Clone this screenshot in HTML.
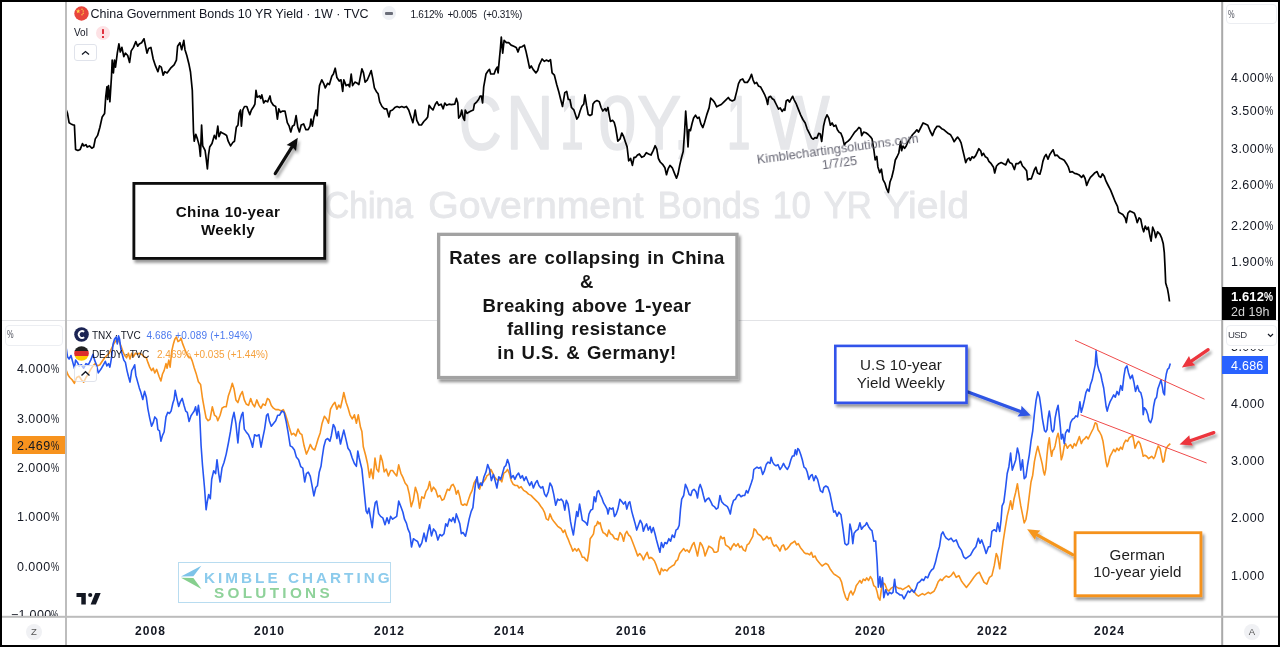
<!DOCTYPE html>
<html><head><meta charset="utf-8"><title>CN10Y chart</title>
<style>
html,body{margin:0;padding:0;background:#fff;}
body{width:1280px;height:647px;overflow:hidden;position:relative;font-family:"Liberation Sans",Arial,sans-serif;}
.abs{position:absolute;will-change:transform;}
.ax{position:absolute;font-family:"Liberation Sans",Arial,sans-serif;font-size:11px;color:#131722;white-space:nowrap;line-height:14px;height:14px;}
.axr{text-align:right;}
.leg{position:absolute;font-family:"Liberation Sans",Arial,sans-serif;white-space:nowrap;color:#131722;}
.box{position:absolute;background:#fff;box-sizing:border-box;text-align:center;font-family:"Liberation Sans",Arial,sans-serif;color:#111;}
.circ{position:absolute;border-radius:50%;}
.bline{position:absolute;background:#000;}
</style></head><body>

<svg class="abs" style="left:0;top:0" width="1280" height="647" viewBox="0 0 1280 647">
<defs><clipPath id="ctop"><rect x="67" y="2" width="1155" height="318"/></clipPath><clipPath id="cbot"><rect x="67" y="321" width="1155" height="296"/></clipPath></defs>
<text transform="translate(459.05,149.00) scale(0.7686,1)" font-family="'Liberation Sans',Arial,sans-serif" font-size="76.6" fill="#e6e7ea" stroke="#e6e7ea" stroke-width="1.60" stroke-linejoin="round">C</text>
<text transform="translate(506.31,149.00) scale(0.8528,1)" font-family="'Liberation Sans',Arial,sans-serif" font-size="76.6" fill="#e6e7ea" stroke="#e6e7ea" stroke-width="1.60" stroke-linejoin="round">N</text>
<text transform="translate(560.43,149.00) scale(0.5418,1)" font-family="'Liberation Sans',Arial,sans-serif" font-size="76.6" fill="#e6e7ea" stroke="#e6e7ea" stroke-width="1.60" stroke-linejoin="round">1</text>
<text transform="translate(598.51,149.00) scale(0.8857,1)" font-family="'Liberation Sans',Arial,sans-serif" font-size="76.6" fill="#e6e7ea" stroke="#e6e7ea" stroke-width="1.60" stroke-linejoin="round">0</text>
<text transform="translate(637.36,149.00) scale(0.8599,1)" font-family="'Liberation Sans',Arial,sans-serif" font-size="76.6" fill="#e6e7ea" stroke="#e6e7ea" stroke-width="1.60" stroke-linejoin="round">Y</text>
<text transform="translate(673.20,149.00) scale(0.8209,1)" font-family="'Liberation Sans',Arial,sans-serif" font-size="76.6" fill="#e6e7ea" stroke="#e6e7ea" stroke-width="1.60" stroke-linejoin="round">,</text>
<text transform="translate(726.90,149.00) scale(0.5479,1)" font-family="'Liberation Sans',Arial,sans-serif" font-size="76.6" fill="#e6e7ea" stroke="#e6e7ea" stroke-width="1.60" stroke-linejoin="round">1</text>
<text transform="translate(767.80,149.00) scale(0.8542,1)" font-family="'Liberation Sans',Arial,sans-serif" font-size="76.6" fill="#e6e7ea" stroke="#e6e7ea" stroke-width="1.60" stroke-linejoin="round">W</text>
<text transform="translate(324.86,218.05) scale(0.9150,1)" font-family="'Liberation Sans',Arial,sans-serif" font-size="36.9" fill="#e6e7ea" stroke="#e6e7ea" stroke-width="0.98" stroke-linejoin="round">China</text>
<text transform="translate(428.32,218.05) scale(1.0609,1)" font-family="'Liberation Sans',Arial,sans-serif" font-size="36.9" fill="#e6e7ea" stroke="#e6e7ea" stroke-width="0.85" stroke-linejoin="round">Government</text>
<text transform="translate(657.60,218.05) scale(0.9792,1)" font-family="'Liberation Sans',Arial,sans-serif" font-size="36.9" fill="#e6e7ea" stroke="#e6e7ea" stroke-width="0.92" stroke-linejoin="round">Bonds</text>
<text transform="translate(772.76,218.05) scale(0.9218,1)" font-family="'Liberation Sans',Arial,sans-serif" font-size="36.9" fill="#e6e7ea" stroke="#e6e7ea" stroke-width="0.98" stroke-linejoin="round">10</text>
<text transform="translate(823.75,218.05) scale(0.9395,1)" font-family="'Liberation Sans',Arial,sans-serif" font-size="36.9" fill="#e6e7ea" stroke="#e6e7ea" stroke-width="0.96" stroke-linejoin="round">YR</text>
<text transform="translate(883.45,218.05) scale(1.0597,1)" font-family="'Liberation Sans',Arial,sans-serif" font-size="36.9" fill="#e6e7ea" stroke="#e6e7ea" stroke-width="0.85" stroke-linejoin="round">Yield</text>
<rect x="2" y="320" width="1276" height="1" fill="#e2e3e6"/>
<rect x="65" y="2" width="2" height="643" fill="#bdbdbd"/>
<rect x="1221.2" y="2" width="2" height="643" fill="#a9a9a9"/>
<rect x="2" y="615.8" width="1276" height="2" fill="#bcbcbc"/>
<g clip-path="url(#ctop)"><path d="M66.3 110.0 L67.5 113.4 L69.1 122.7 L71.0 123.9 L73.3 125.0 L74.4 125.0 L75.6 149.4 L77.9 150.5 L80.2 149.4 L82.5 143.6 L83.7 145.9 L86.0 144.7 L87.2 147.0 L89.5 145.9 L91.8 148.2 L93.7 147.0 L95.3 138.9 L97.6 135.4 L99.9 127.3 L102.2 116.9 L104.6 113.4 L105.7 97.2 L106.9 86.8 L107.6 99.5 L108.5 85.6 L109.9 101.8 L111.5 76.3 L112.2 60.1 L113.4 72.9 L114.5 60.1 L115.5 67.1 L117.3 53.2 L118.9 43.9 L120.3 52.0 L121.9 47.4 L123.8 56.7 L125.4 53.2 L127.7 55.5 L129.6 62.4 L131.2 50.9 L133.5 47.4 L135.8 41.6 L137.7 46.2 L139.3 43.9 L141.6 42.7 L144.0 38.8 L145.1 43.9 L147.0 53.2 L148.6 48.5 L150.9 47.4 L153.2 59.0 L155.5 65.9 L157.9 71.7 L159.5 65.9 L161.3 67.1 L163.2 75.2 L164.8 71.7 L167.1 72.9 L170.6 68.2 L174.1 64.8 L176.4 60.1 L177.6 46.2 L179.9 42.7 L181.7 49.7 L183.8 40.4 L185.0 49.7 L186.8 55.5 L189.1 64.8 L190.5 72.0 L192.3 90.3 L193.5 132.0 L194.2 141.2 L195.8 134.3 L197.4 138.9 L199.3 145.9 L200.4 156.3 L201.6 125.0 L202.7 145.9 L203.9 148.2 L205.1 150.5 L206.2 158.6 L207.4 169.0 L208.5 155.1 L209.7 147.0 L212.0 143.6 L214.3 135.4 L216.0 138.9 L217.8 126.2 L219.0 136.6 L220.8 132.0 L222.4 133.1 L224.8 134.3 L226.6 135.4 L228.2 141.2 L230.6 145.9 L232.9 142.4 L234.5 141.2 L236.3 127.3 L238.0 125.0 L239.1 113.4 L240.5 110.0 L241.4 126.2 L242.8 110.0 L244.5 106.5 L246.8 106.5 L248.4 111.1 L249.8 114.6 L251.4 110.0 L253.7 106.5 L254.9 104.2 L256.0 90.3 L257.2 97.2 L259.5 96.0 L260.7 98.4 L261.8 94.9 L263.7 103.0 L265.3 100.7 L267.6 101.8 L270.0 96.0 L271.1 101.8 L273.4 105.3 L275.7 106.5 L277.4 119.2 L278.8 108.8 L280.4 112.3 L282.7 111.1 L285.0 111.1 L287.3 122.7 L289.2 126.2 L290.8 132.0 L292.4 126.2 L294.3 125.0 L296.1 115.7 L297.8 127.3 L299.4 132.0 L301.2 125.0 L303.6 123.9 L305.9 129.7 L308.2 129.7 L310.0 126.2 L311.0 119.2 L312.4 126.2 L314.0 116.9 L316.0 110.0 L317.2 115.7 L318.3 97.2 L319.5 85.6 L321.8 79.8 L323.6 83.3 L325.3 87.9 L327.6 83.3 L329.4 84.5 L331.8 76.3 L333.4 74.0 L335.2 68.2 L336.9 77.5 L339.2 81.0 L341.0 79.8 L342.7 91.4 L343.8 79.8 L346.1 85.6 L348.4 84.5 L349.6 86.8 L351.2 74.0 L352.6 85.6 L354.9 82.1 L357.3 83.3 L358.9 84.5 L360.0 78.7 L361.9 68.9 L363.5 72.9 L365.1 82.1 L367.4 79.8 L369.3 75.2 L371.2 70.6 L372.8 78.7 L374.4 87.9 L376.3 91.4 L378.1 93.7 L379.7 101.8 L382.0 106.5 L384.4 108.8 L386.7 108.8 L389.0 116.9 L390.2 111.1 L392.5 110.0 L394.8 107.6 L397.1 106.5 L399.4 107.6 L401.7 106.5 L404.1 107.6 L406.4 106.5 L408.7 110.0 L411.0 116.9 L412.9 122.7 L415.2 110.0 L416.8 120.4 L419.1 125.0 L421.4 125.0 L423.8 121.5 L426.1 119.2 L427.7 116.9 L429.1 105.3 L430.7 107.6 L433.0 110.0 L435.3 104.2 L437.0 101.8 L438.8 105.3 L441.1 104.2 L443.2 108.8 L444.8 103.0 L446.6 105.3 L449.0 104.2 L451.3 104.6 L454.7 104.2 L456.4 98.4 L457.8 103.0 L458.7 118.1 L460.5 115.7 L461.7 110.0 L463.3 118.1 L464.5 120.4 L465.2 110.0 L467.0 113.4 L468.7 112.3 L471.0 111.1 L473.3 110.0 L474.4 104.2 L476.8 101.8 L478.6 99.5 L480.2 96.0 L481.4 96.0 L482.6 103.0 L483.7 86.8 L486.0 74.0 L488.3 70.6 L489.5 69.4 L490.7 74.0 L494.1 74.0 L495.8 69.4 L497.2 67.1 L498.1 72.9 L499.5 57.8 L500.4 48.5 L501.3 37.0 L502.7 53.2 L504.1 40.4 L506.4 42.7 L508.7 42.7 L511.1 45.1 L513.8 46.2 L516.2 47.4 L518.0 52.0 L519.6 47.4 L522.0 46.7 L524.3 45.1 L525.9 50.9 L527.7 59.0 L529.6 68.2 L531.2 65.9 L533.1 69.4 L535.9 72.9 L537.7 70.6 L539.3 64.8 L542.1 59.0 L544.4 61.3 L546.3 60.1 L548.6 61.3 L550.5 59.7 L552.1 72.9 L554.4 75.2 L556.7 84.5 L559.0 92.6 L560.7 99.5 L562.5 106.5 L564.8 92.6 L566.7 91.4 L568.3 99.5 L569.9 99.5 L571.5 107.5 L573.8 109.8 L575.4 114.5 L576.8 119.1 L578.4 116.8 L580.1 111.0 L581.9 106.3 L583.8 104.0 L584.9 94.8 L586.5 105.2 L588.2 114.5 L590.0 115.6 L591.9 114.5 L593.0 104.0 L594.7 101.7 L597.0 100.6 L599.3 101.7 L601.1 107.5 L602.8 111.0 L605.1 108.7 L606.2 111.0 L607.9 107.5 L609.3 115.6 L610.4 121.4 L612.5 120.3 L614.3 122.6 L615.5 127.2 L616.7 134.2 L617.8 141.1 L620.1 138.8 L621.8 133.0 L623.6 136.5 L625.5 142.3 L627.1 146.9 L628.7 160.8 L630.6 158.5 L632.4 165.4 L634.0 157.3 L635.7 157.3 L637.5 155.0 L639.4 153.9 L641.7 157.3 L644.0 156.2 L646.3 152.7 L648.6 153.9 L651.0 155.0 L653.3 150.4 L655.1 145.7 L656.8 149.2 L658.4 158.5 L660.2 162.0 L662.6 164.3 L664.9 167.8 L666.5 174.7 L668.1 168.9 L670.0 165.4 L672.3 167.8 L674.6 173.6 L676.5 178.2 L678.1 173.6 L679.7 165.4 L681.6 157.3 L683.2 151.5 L684.6 131.8 L685.7 111.0 L686.9 127.2 L688.0 146.9 L689.0 129.5 L690.4 130.7 L692.0 123.7 L693.6 117.9 L695.5 115.2 L697.5 118.4 L699.1 117.2 L701.0 124.2 L702.8 127.6 L704.4 123.0 L706.7 114.9 L709.1 107.9 L710.7 98.2 L712.5 99.8 L714.4 102.1 L716.7 106.8 L719.0 105.6 L721.3 104.5 L723.7 102.1 L726.0 99.8 L728.3 97.5 L729.9 99.8 L732.2 101.0 L734.6 99.8 L736.9 90.6 L738.5 83.6 L740.3 80.1 L742.7 79.0 L744.5 82.4 L747.3 82.4 L749.6 79.0 L751.5 74.3 L753.1 80.1 L754.7 83.6 L756.6 82.4 L758.4 85.9 L760.7 87.1 L763.1 91.7 L764.9 95.2 L766.3 98.7 L767.7 104.5 L768.6 97.5 L770.5 96.3 L772.3 98.7 L774.0 99.8 L776.3 104.5 L778.6 109.1 L780.2 107.9 L782.1 111.4 L783.9 109.1 L784.8 110.3 L786.2 101.0 L787.9 99.8 L789.5 102.1 L791.3 98.7 L792.7 96.3 L794.1 99.8 L796.0 103.3 L798.3 109.1 L800.6 114.9 L802.9 119.5 L805.2 123.0 L807.1 128.8 L809.4 133.4 L811.7 138.1 L813.4 139.2 L815.0 137.6 L816.8 138.1 L818.7 133.4 L820.3 134.0 L821.7 141.5 L823.5 126.3 L825.1 119.4 L827.0 114.8 L828.8 118.2 L830.4 125.2 L832.1 122.9 L833.9 126.3 L835.8 125.2 L837.4 129.8 L839.0 132.1 L840.9 133.3 L842.7 137.9 L844.3 144.9 L846.0 142.6 L847.8 141.4 L850.1 139.1 L852.4 135.6 L854.8 132.1 L857.1 129.8 L858.9 127.5 L860.6 128.7 L861.7 135.6 L863.6 132.1 L865.9 132.8 L868.2 134.5 L870.5 136.8 L872.1 139.1 L873.8 149.5 L875.2 160.0 L876.8 156.5 L877.9 166.9 L879.8 172.7 L881.4 169.2 L883.0 179.7 L884.9 183.1 L886.7 188.9 L888.4 192.4 L890.0 182.0 L891.8 177.3 L893.7 169.2 L895.3 160.0 L897.2 156.5 L898.8 153.0 L900.6 141.4 L901.6 150.7 L903.0 146.0 L904.6 148.4 L906.2 146.0 L908.1 141.4 L910.4 137.9 L912.7 134.5 L915.0 132.1 L916.9 129.8 L918.5 132.1 L920.8 127.5 L923.1 122.9 L925.4 124.0 L927.8 125.2 L930.1 131.0 L932.4 135.6 L934.7 129.8 L937.0 126.3 L939.3 126.3 L941.7 128.7 L944.0 129.8 L946.3 131.8 L948.4 133.6 L950.6 134.8 L952.5 138.2 L954.1 141.7 L955.7 139.4 L957.6 137.1 L959.4 139.4 L961.1 142.9 L962.7 149.8 L964.1 155.6 L965.7 162.6 L967.3 159.1 L969.2 157.9 L970.3 160.3 L972.0 156.8 L973.8 157.9 L975.7 155.6 L977.3 152.1 L978.9 148.7 L980.8 151.0 L981.9 155.6 L983.5 153.3 L985.4 156.8 L987.3 157.9 L988.9 161.4 L991.2 163.7 L993.5 167.2 L994.7 173.0 L996.5 166.0 L998.8 163.7 L1001.2 162.6 L1003.5 163.7 L1005.8 164.9 L1008.1 159.1 L1009.7 162.6 L1012.0 163.7 L1014.4 169.5 L1016.0 163.7 L1018.3 163.7 L1020.6 161.4 L1022.5 166.0 L1024.8 168.4 L1026.6 170.7 L1027.6 180.0 L1029.4 178.8 L1031.3 178.8 L1032.9 174.2 L1034.5 169.5 L1035.9 167.2 L1037.5 173.0 L1039.9 174.2 L1041.5 168.4 L1042.9 161.4 L1044.5 156.8 L1046.1 154.5 L1048.0 159.1 L1049.8 154.5 L1051.4 152.1 L1053.1 149.8 L1054.9 155.6 L1057.2 155.2 L1059.6 157.9 L1061.9 159.1 L1064.2 160.3 L1066.5 163.7 L1068.4 167.2 L1070.0 172.2 L1072.3 171.6 L1074.6 173.4 L1077.0 173.9 L1079.3 175.1 L1081.6 177.4 L1083.4 175.1 L1085.1 178.5 L1086.7 185.5 L1088.5 180.9 L1090.4 177.4 L1092.7 175.1 L1095.0 172.7 L1097.1 171.6 L1099.0 176.2 L1100.8 177.4 L1102.4 173.9 L1104.3 176.2 L1105.9 180.9 L1108.2 185.5 L1110.6 190.1 L1112.9 195.9 L1115.2 201.7 L1117.5 206.3 L1118.7 212.1 L1120.5 213.3 L1122.8 214.5 L1125.2 217.9 L1126.3 222.6 L1127.9 213.3 L1129.8 211.0 L1132.1 212.1 L1134.4 213.3 L1136.0 217.9 L1137.2 222.6 L1139.1 217.9 L1140.7 219.1 L1142.3 227.2 L1143.7 231.8 L1145.3 226.0 L1146.9 229.5 L1148.3 227.2 L1150.0 236.5 L1151.1 241.1 L1152.7 227.2 L1154.6 231.8 L1155.7 237.6 L1157.6 231.8 L1159.9 234.2 L1161.5 237.6 L1163.2 243.4 L1164.3 252.7 L1165.0 266.6 L1165.7 283.0 L1166.9 287.0 L1167.4 288.4 L1168.5 294.4 L1169.5 301.5" fill="none" stroke="#000" stroke-width="1.7" stroke-linejoin="round"/></g>
<g clip-path="url(#cbot)"><path d="M66.3 370.6 L68.2 375.2 L69.8 377.5 L72.1 379.8 L74.4 383.3 L76.7 377.5 L79.1 376.3 L81.4 379.8 L83.7 382.1 L86.0 377.5 L88.3 374.0 L90.7 369.4 L93.0 365.9 L95.3 363.6 L97.6 365.9 L99.9 364.8 L102.2 361.3 L104.6 357.8 L106.9 355.5 L109.2 353.2 L111.5 348.5 L113.8 343.9 L116.1 340.4 L117.8 339.3 L119.6 342.7 L121.5 347.4 L123.1 352.0 L124.7 355.5 L126.6 357.8 L128.4 353.2 L130.0 359.0 L131.7 353.2 L133.5 356.7 L135.4 353.2 L137.7 354.3 L139.3 353.2 L141.6 354.3 L144.0 356.7 L146.3 357.8 L147.9 362.4 L149.7 367.1 L151.6 370.6 L153.2 368.2 L154.8 372.9 L156.7 369.4 L159.0 376.3 L160.9 381.0 L162.5 374.0 L164.1 370.6 L166.0 363.6 L167.1 368.2 L168.8 360.1 L170.1 367.1 L171.8 350.9 L173.4 343.9 L174.8 339.3 L176.4 337.0 L178.0 341.6 L179.9 340.4 L181.0 338.1 L182.7 343.9 L184.5 348.5 L186.8 354.3 L189.1 357.8 L190.5 357.0 L192.2 360.9 L194.2 367.8 L196.1 373.4 L198.4 381.8 L200.6 384.5 L202.5 398.5 L204.5 409.6 L206.1 418.0 L208.1 420.7 L210.0 419.3 L212.3 406.8 L214.5 415.2 L216.4 416.6 L217.8 420.7 L220.1 415.2 L222.0 408.2 L224.0 406.8 L226.2 406.8 L228.4 395.7 L230.4 390.1 L232.3 383.2 L234.0 388.7 L235.9 399.9 L237.9 402.6 L240.1 395.7 L242.3 391.5 L244.3 399.9 L246.2 404.0 L248.5 405.4 L250.7 398.5 L252.6 404.0 L254.6 406.8 L256.8 399.9 L259.0 405.4 L261.0 408.2 L262.9 404.0 L265.2 405.4 L267.4 398.5 L269.3 399.9 L271.3 405.4 L273.5 408.2 L275.7 409.6 L278.5 409.6 L281.3 411.0 L283.3 409.6 L285.2 413.8 L287.4 420.7 L289.7 429.1 L291.6 434.7 L293.6 433.3 L295.8 436.0 L298.0 429.1 L300.0 433.3 L301.9 434.7 L304.1 445.8 L306.4 454.1 L308.3 450.0 L310.3 444.4 L312.5 448.6 L314.7 450.0 L316.3 445.0 L318.2 438.5 L320.2 432.9 L322.1 423.2 L324.4 416.2 L326.6 419.0 L328.5 423.2 L330.5 409.2 L332.7 405.1 L334.9 402.3 L336.9 409.2 L338.8 405.1 L340.5 407.8 L342.4 399.5 L343.8 392.5 L346.1 402.3 L348.0 407.8 L350.0 414.8 L352.2 419.0 L354.4 414.8 L356.4 423.2 L358.3 414.8 L360.5 427.3 L361.9 431.5 L363.3 446.8 L365.6 455.2 L367.5 463.5 L369.5 477.4 L371.1 469.1 L373.1 478.8 L375.0 458.0 L376.7 469.1 L378.6 471.9 L380.6 455.2 L382.3 460.7 L384.2 471.9 L386.2 469.1 L388.4 476.0 L390.6 470.5 L392.6 470.5 L394.5 473.3 L396.7 476.0 L398.7 464.9 L400.9 473.3 L402.9 477.4 L405.1 483.0 L407.3 485.8 L409.3 494.1 L411.2 506.7 L413.4 499.7 L415.4 487.2 L417.6 494.1 L419.6 508.1 L421.8 496.9 L424.0 498.3 L426.0 491.4 L427.9 488.6 L429.6 481.6 L431.5 491.4 L433.5 487.2 L435.7 490.0 L437.9 496.9 L439.9 495.5 L442.0 500.3 L444.0 499.1 L445.7 494.1 L447.4 489.2 L449.4 490.4 L451.4 485.5 L453.1 484.3 L454.9 488.0 L456.3 494.1 L458.1 490.4 L459.8 496.6 L461.3 504.0 L463.0 505.3 L464.7 504.0 L466.7 505.3 L468.7 499.1 L470.4 494.1 L472.2 490.4 L474.1 483.0 L476.1 479.3 L477.8 483.0 L479.6 489.2 L481.5 483.0 L483.5 481.8 L485.3 479.3 L487.0 475.6 L489.0 474.4 L490.9 469.4 L492.7 473.1 L494.4 476.8 L496.4 479.3 L498.4 480.6 L500.1 479.3 L501.8 481.8 L503.8 473.1 L505.8 471.9 L507.5 469.4 L509.2 473.1 L511.2 480.6 L513.2 484.3 L515.2 485.5 L517.4 485.5 L519.1 488.0 L521.1 486.7 L523.6 490.4 L526.0 491.7 L528.5 494.1 L531.0 495.4 L533.4 497.9 L535.9 500.3 L538.4 502.8 L540.9 506.5 L542.8 509.0 L544.6 512.7 L546.3 518.9 L548.3 520.1 L550.0 513.9 L552.0 518.9 L553.7 521.3 L555.7 523.8 L557.7 526.3 L559.4 527.5 L561.1 528.7 L563.1 532.5 L564.8 530.0 L566.8 536.2 L568.5 539.9 L570.0 544.0 L571.0 546.2 L572.9 551.1 L574.9 548.6 L576.7 551.1 L578.4 548.6 L580.4 552.3 L582.3 557.3 L584.1 557.3 L585.8 559.8 L587.3 561.0 L589.0 551.1 L590.2 538.7 L592.0 536.3 L593.5 533.8 L594.7 526.4 L596.4 525.2 L597.7 521.4 L598.9 523.9 L600.1 522.7 L601.6 528.9 L603.1 532.6 L605.1 533.8 L607.1 536.3 L608.8 530.1 L610.5 533.8 L612.5 535.0 L614.5 538.7 L616.2 538.7 L617.9 540.0 L619.9 532.6 L621.9 535.0 L623.6 541.2 L625.3 533.8 L626.8 531.3 L628.6 535.0 L630.3 536.3 L632.3 541.2 L634.2 546.2 L636.0 551.1 L637.7 556.0 L639.7 553.6 L641.7 556.0 L643.4 559.8 L645.1 556.0 L647.1 552.3 L649.1 558.5 L650.8 557.3 L652.5 558.5 L654.5 561.0 L656.5 565.9 L658.2 570.9 L659.9 574.6 L661.4 568.4 L663.2 570.9 L664.9 569.6 L666.9 570.9 L668.8 568.4 L670.6 567.2 L672.3 565.9 L674.3 564.7 L676.0 561.0 L677.7 559.8 L679.7 553.6 L681.7 551.1 L683.7 548.6 L685.4 551.1 L687.1 549.9 L689.1 552.3 L690.8 548.6 L692.3 544.9 L694.0 542.5 L696.0 549.9 L697.5 556.0 L698.9 548.6 L700.2 542.5 L701.9 544.9 L703.4 548.6 L705.1 556.0 L706.9 551.1 L708.8 546.2 L710.8 547.4 L712.5 548.6 L714.3 552.3 L716.2 552.3 L718.0 551.1 L719.2 541.2 L720.7 536.3 L722.4 538.7 L724.2 537.5 L725.6 544.9 L727.4 546.2 L729.1 547.4 L730.6 549.9 L732.3 546.2 L734.0 543.7 L736.0 546.2 L738.0 543.7 L739.7 547.4 L741.5 546.2 L743.4 549.9 L745.4 551.1 L747.1 544.9 L748.9 543.7 L750.8 540.0 L752.8 536.3 L754.1 528.9 L755.8 530.1 L757.8 533.8 L759.5 535.0 L761.2 536.3 L763.2 540.0 L765.2 538.7 L766.9 536.3 L768.6 538.7 L770.6 537.5 L772.6 543.7 L774.3 546.2 L776.1 544.9 L778.0 547.4 L780.0 551.1 L781.7 546.2 L783.5 544.9 L785.4 549.9 L787.4 548.6 L789.2 546.2 L790.9 543.7 L792.9 542.5 L794.8 541.2 L796.6 544.9 L798.3 543.7 L800.3 547.4 L802.3 549.9 L804.0 552.3 L805.7 553.6 L807.7 553.6 L809.7 554.8 L811.4 552.3 L813.1 557.3 L815.1 556.0 L816.8 559.8 L818.8 562.2 L820.3 564.0 L822.1 566.0 L823.9 564.7 L825.8 563.4 L827.9 564.7 L830.0 568.7 L831.8 571.3 L833.7 573.9 L835.8 575.2 L837.9 576.6 L839.7 577.9 L841.5 581.8 L843.6 591.0 L845.7 597.6 L847.6 600.2 L849.4 593.6 L851.0 591.0 L852.8 594.9 L854.7 591.0 L856.2 585.7 L858.1 583.1 L859.9 580.5 L861.5 583.1 L863.3 579.2 L865.2 580.5 L866.7 577.9 L868.6 580.5 L870.4 576.6 L872.0 579.2 L873.8 585.7 L875.7 587.1 L877.2 592.3 L878.3 597.6 L879.9 600.2 L881.7 587.1 L883.6 583.1 L885.1 584.4 L887.0 589.7 L888.8 591.0 L890.9 588.4 L893.0 587.1 L894.8 585.7 L896.7 587.1 L898.8 588.4 L900.9 588.4 L902.7 589.7 L904.6 588.4 L906.7 587.1 L908.8 585.7 L910.6 588.4 L912.4 591.0 L914.5 592.3 L916.6 594.9 L918.5 596.2 L920.3 594.9 L922.4 593.6 L924.5 594.9 L926.4 593.6 L928.2 592.3 L930.3 593.6 L932.4 592.3 L934.2 591.0 L936.1 587.1 L938.2 581.8 L940.3 579.2 L942.1 580.5 L944.0 577.9 L946.1 576.0 L948.7 577.3 L951.1 575.6 L953.5 572.2 L956.2 577.3 L958.9 575.6 L961.3 580.7 L963.7 584.1 L966.4 587.5 L969.1 584.1 L971.5 580.7 L973.9 577.3 L976.6 573.9 L979.3 572.2 L981.7 577.3 L984.1 582.4 L986.8 584.1 L989.5 577.3 L991.9 575.6 L994.3 565.4 L996.3 553.5 L997.7 556.9 L999.7 568.8 L1001.1 556.9 L1003.1 541.6 L1005.5 526.3 L1007.2 516.1 L1008.9 509.3 L1010.6 500.7 L1012.3 509.3 L1014.0 499.0 L1015.7 492.2 L1017.4 483.7 L1019.1 495.6 L1020.8 505.9 L1022.5 514.4 L1024.2 522.9 L1025.9 519.5 L1027.6 509.3 L1029.3 495.6 L1031.0 482.0 L1032.7 475.2 L1034.4 461.6 L1036.1 453.1 L1037.8 446.3 L1039.5 453.1 L1041.2 459.8 L1042.3 464.4 L1043.5 471.4 L1044.6 474.9 L1045.8 469.1 L1047.0 455.2 L1048.1 444.7 L1049.3 437.8 L1050.4 448.2 L1051.6 456.3 L1052.7 450.5 L1053.9 449.4 L1055.1 445.9 L1056.7 437.8 L1058.1 433.2 L1059.2 438.9 L1060.4 450.5 L1061.3 459.8 L1062.7 455.2 L1064.3 445.9 L1065.5 443.6 L1067.4 448.2 L1069.0 445.9 L1070.6 444.7 L1072.5 448.2 L1074.3 443.6 L1075.9 445.9 L1077.6 441.3 L1079.4 436.6 L1081.3 443.6 L1082.9 440.1 L1084.5 438.9 L1086.4 436.6 L1088.2 438.9 L1089.8 435.5 L1091.5 432.0 L1093.3 428.5 L1095.2 422.7 L1096.8 423.9 L1098.0 429.7 L1099.6 432.0 L1101.4 435.5 L1103.0 441.3 L1104.4 450.5 L1106.1 462.1 L1107.2 466.8 L1108.4 463.3 L1110.0 456.3 L1111.9 452.9 L1113.7 449.4 L1115.3 451.7 L1117.0 448.2 L1118.8 450.5 L1120.7 447.1 L1122.3 449.4 L1123.9 443.6 L1125.8 440.1 L1127.6 441.3 L1129.2 437.8 L1130.9 436.6 L1132.7 435.5 L1133.9 441.3 L1135.0 448.2 L1136.9 443.6 L1138.5 441.3 L1140.1 443.6 L1142.0 450.5 L1143.2 456.3 L1144.8 455.2 L1146.6 456.3 L1148.5 458.6 L1150.1 457.5 L1151.7 456.3 L1153.6 458.6 L1155.0 456.3 L1156.6 450.5 L1158.2 445.9 L1160.1 448.2 L1161.7 456.3 L1162.9 462.1 L1164.0 461.0 L1165.2 452.9 L1166.3 448.2 L1167.9 445.9 L1170.3 443.6" fill="none" stroke="#f7931e" stroke-width="1.6" stroke-linejoin="round"/><path d="M66.3 348.5 L67.5 356.7 L69.1 359.0 L71.0 355.5 L72.8 362.4 L74.4 368.2 L75.6 360.1 L77.4 362.4 L79.1 365.9 L81.4 364.8 L83.7 368.2 L86.0 363.6 L88.3 364.8 L90.7 360.1 L93.0 354.3 L94.6 360.1 L96.4 364.8 L98.3 372.9 L99.9 370.6 L101.5 368.2 L103.4 364.8 L105.3 361.3 L106.9 365.9 L108.5 363.6 L109.9 367.1 L111.5 357.8 L113.1 343.9 L114.5 339.3 L116.1 337.0 L117.3 343.9 L118.5 335.8 L119.6 339.3 L120.8 348.5 L121.9 353.2 L123.8 360.1 L125.4 362.4 L127.0 370.6 L128.4 376.3 L130.0 382.1 L131.7 370.6 L133.1 368.2 L134.7 364.8 L135.8 375.2 L137.7 382.1 L139.3 387.9 L140.9 392.6 L142.8 399.5 L144.6 391.4 L146.3 397.2 L147.9 408.8 L149.7 418.1 L151.6 426.2 L153.2 422.7 L154.8 416.9 L156.7 419.2 L157.9 429.7 L159.5 430.8 L160.9 441.2 L162.5 435.4 L164.1 432.0 L166.0 416.9 L167.8 412.3 L169.4 413.4 L171.1 411.1 L172.9 403.0 L174.1 399.5 L175.2 390.3 L177.1 399.5 L178.7 406.5 L180.3 401.8 L182.2 398.4 L184.0 405.3 L185.7 411.1 L187.3 412.3 L189.1 421.5 L191.0 415.7 L192.6 413.4 L194.2 411.0 L195.6 406.8 L197.0 415.2 L198.4 405.4 L199.7 415.2 L201.1 445.8 L202.5 465.3 L204.5 487.5 L206.1 509.8 L207.3 501.5 L208.7 494.5 L210.3 498.7 L211.7 479.2 L213.7 470.8 L215.6 473.6 L217.0 459.7 L218.7 473.6 L220.1 482.0 L222.0 468.1 L224.0 462.5 L226.2 454.1 L228.4 443.0 L230.4 431.9 L232.3 419.3 L234.0 412.4 L235.9 423.5 L237.9 443.0 L239.6 423.5 L241.5 415.2 L242.9 412.4 L244.3 429.1 L246.2 431.9 L248.5 434.7 L250.7 440.2 L252.6 447.2 L254.6 434.7 L256.8 436.0 L259.0 434.7 L261.0 447.2 L262.9 437.4 L264.6 429.1 L266.6 415.2 L268.0 413.8 L269.3 420.7 L271.3 426.3 L273.5 423.5 L275.7 420.7 L277.7 415.2 L279.6 415.2 L281.9 411.0 L284.1 412.4 L286.0 420.7 L288.0 431.9 L290.2 445.8 L292.4 447.2 L294.4 450.0 L296.3 456.9 L298.6 459.7 L300.8 466.7 L302.8 468.1 L304.7 482.0 L306.4 473.6 L308.3 472.2 L310.3 476.4 L311.9 484.8 L313.9 495.9 L315.8 487.5 L317.4 485.8 L319.3 471.9 L321.0 466.3 L322.1 458.0 L323.8 446.8 L325.7 439.9 L327.7 438.5 L329.9 441.2 L331.3 435.7 L333.3 424.5 L334.9 427.3 L336.9 438.5 L338.3 431.5 L340.5 444.0 L342.4 435.7 L343.8 430.1 L346.1 439.9 L348.0 448.2 L350.0 451.0 L352.2 458.0 L354.4 463.5 L356.4 466.3 L357.8 451.0 L359.2 458.0 L360.5 463.5 L361.9 469.1 L363.3 483.0 L364.7 496.9 L366.1 510.8 L367.5 513.6 L368.9 508.1 L370.3 516.4 L372.2 527.6 L373.9 510.8 L375.3 502.5 L376.7 501.1 L378.6 513.6 L380.6 516.4 L382.8 517.8 L385.0 524.8 L387.0 517.8 L388.9 523.4 L390.6 516.4 L392.6 519.2 L394.5 517.8 L396.7 516.4 L398.7 501.1 L400.9 506.7 L402.9 512.2 L404.5 519.2 L406.5 523.4 L407.9 528.9 L409.8 533.1 L411.5 547.0 L413.4 538.7 L415.4 540.1 L417.6 541.5 L419.6 547.0 L421.8 542.9 L424.0 533.1 L426.0 541.5 L427.9 531.7 L429.6 524.8 L431.5 535.9 L433.5 528.9 L435.7 531.7 L437.9 540.1 L439.9 534.5 L441.8 535.9 L444.0 533.7 L445.7 523.8 L447.4 526.3 L449.4 518.9 L451.4 521.3 L453.1 517.6 L454.9 522.6 L456.3 513.9 L458.1 518.9 L459.8 523.8 L461.3 533.7 L463.0 532.5 L465.5 536.2 L467.2 528.7 L469.2 518.9 L471.2 511.4 L472.9 507.7 L474.1 496.6 L475.4 484.3 L477.1 476.8 L478.6 488.0 L480.3 483.0 L482.0 485.5 L484.0 476.8 L486.0 471.9 L487.7 464.5 L489.5 469.4 L491.4 480.6 L493.4 474.4 L495.1 480.6 L496.9 488.0 L498.8 476.8 L500.8 479.3 L502.6 473.1 L504.3 467.0 L505.8 465.7 L507.5 459.5 L509.2 464.5 L511.2 478.1 L513.2 475.6 L514.9 479.3 L516.6 475.6 L518.6 473.1 L520.6 478.1 L522.3 475.6 L524.1 480.6 L526.0 476.8 L528.0 481.8 L529.7 485.5 L531.5 481.8 L533.4 488.0 L535.4 483.0 L537.2 480.6 L538.9 485.5 L540.9 488.0 L542.8 486.7 L544.6 494.1 L546.3 496.6 L548.3 491.7 L550.0 483.0 L552.0 486.7 L553.7 494.1 L555.7 505.3 L557.7 499.1 L559.4 500.3 L561.1 499.1 L563.1 501.6 L564.8 510.2 L566.3 500.3 L568.0 504.0 L569.2 511.6 L570.5 521.4 L571.7 527.6 L573.4 535.0 L574.9 523.9 L576.7 511.6 L577.9 516.5 L579.6 504.1 L580.9 511.6 L582.3 520.2 L584.1 521.4 L585.8 522.7 L587.3 525.2 L589.0 514.0 L590.7 510.3 L592.7 509.1 L594.2 496.7 L595.7 501.7 L597.2 491.8 L598.6 490.6 L600.1 494.3 L601.9 498.0 L603.6 502.9 L605.1 505.4 L607.1 509.1 L608.0 514.0 L609.5 507.9 L611.3 509.1 L613.0 507.9 L614.5 516.5 L616.2 514.0 L617.9 509.1 L619.9 499.2 L621.9 501.7 L623.6 504.1 L625.3 501.7 L626.8 509.1 L628.6 502.9 L629.8 501.7 L631.8 511.6 L633.5 517.7 L635.2 523.9 L636.7 530.1 L638.4 525.2 L640.2 520.2 L642.1 523.9 L643.4 531.3 L645.1 526.4 L646.6 523.9 L648.3 530.1 L650.1 526.4 L651.5 532.6 L653.3 527.6 L655.0 533.8 L656.5 540.0 L658.2 546.2 L659.9 552.3 L661.4 542.5 L663.2 547.4 L664.9 542.5 L666.9 543.7 L668.8 538.7 L670.6 541.2 L672.3 535.0 L674.3 537.5 L676.0 530.1 L677.7 528.9 L679.2 525.2 L680.5 509.1 L681.7 499.2 L683.7 495.5 L685.4 484.4 L687.1 488.1 L689.1 494.3 L690.8 495.5 L692.3 490.6 L694.0 489.3 L696.0 491.8 L697.5 498.0 L698.9 488.1 L700.2 484.4 L701.9 489.3 L703.4 495.5 L705.1 501.7 L706.9 499.2 L708.8 498.0 L710.8 501.7 L712.5 505.4 L714.3 506.6 L716.2 509.1 L718.0 507.9 L720.0 495.5 L721.7 501.7 L723.7 504.1 L725.6 505.4 L727.4 506.6 L728.6 509.1 L730.3 514.0 L731.6 506.6 L733.5 500.4 L735.5 499.2 L737.3 495.5 L739.0 494.3 L741.0 496.7 L742.9 495.5 L744.7 495.5 L746.4 490.6 L747.9 493.0 L749.6 488.1 L751.3 483.1 L752.8 478.2 L753.8 469.5 L755.3 468.3 L757.0 467.1 L758.8 468.3 L760.7 467.1 L762.7 474.5 L764.4 470.8 L766.2 464.6 L768.1 462.1 L770.1 463.4 L771.1 457.2 L772.6 462.1 L774.3 464.6 L776.1 465.8 L778.0 464.6 L780.0 469.5 L781.7 467.1 L783.5 463.4 L785.4 467.1 L787.4 469.5 L789.2 465.8 L790.9 459.7 L792.4 456.0 L794.1 456.0 L795.3 449.8 L796.6 454.7 L797.8 448.5 L799.0 449.8 L800.8 454.7 L802.3 459.7 L804.0 467.1 L805.7 468.3 L807.2 472.0 L808.9 479.4 L810.7 475.7 L812.1 474.5 L813.9 480.7 L815.6 475.7 L817.6 479.4 L819.1 485.6 L820.5 491.0 L821.3 491.2 L822.6 492.5 L823.9 487.3 L825.8 486.0 L827.9 487.3 L830.0 493.8 L831.8 503.0 L833.7 512.2 L835.2 510.9 L837.1 516.2 L838.9 512.2 L841.0 514.8 L843.1 529.3 L844.9 543.7 L846.8 545.0 L848.4 543.7 L849.9 524.0 L851.5 530.6 L852.8 543.7 L854.1 533.2 L856.2 530.6 L858.1 529.3 L859.9 522.7 L861.5 529.3 L863.3 526.7 L865.2 525.3 L866.7 522.7 L868.6 526.7 L870.4 529.3 L872.0 530.6 L873.8 541.1 L875.7 541.1 L877.2 563.4 L878.3 587.1 L879.9 576.6 L880.9 587.1 L882.5 577.9 L883.8 597.6 L885.7 589.7 L887.8 595.0 L889.6 592.3 L891.4 593.6 L893.0 592.3 L894.6 579.2 L896.2 592.3 L898.3 593.6 L900.1 595.0 L901.9 595.0 L904.0 598.9 L906.1 595.0 L908.0 591.0 L909.8 592.3 L911.9 589.7 L914.0 592.3 L915.9 588.4 L917.7 583.1 L919.8 581.8 L921.9 579.2 L923.7 580.5 L925.6 576.6 L927.7 577.9 L929.8 572.6 L931.6 570.0 L933.4 568.7 L935.5 562.1 L937.6 552.9 L939.5 546.4 L941.3 534.5 L942.9 531.9 L944.7 535.9 L946.3 538.2 L948.7 539.9 L951.1 538.2 L953.5 541.6 L956.2 539.9 L958.9 546.7 L961.3 550.1 L963.7 556.9 L965.7 558.6 L968.1 556.9 L970.5 555.2 L973.2 550.1 L975.9 546.7 L978.3 538.2 L980.0 543.3 L981.7 539.9 L984.1 546.7 L986.1 553.5 L988.5 546.7 L990.2 546.7 L991.9 531.4 L994.3 529.7 L996.3 531.4 L997.7 522.9 L999.7 531.4 L1001.1 519.5 L1002.1 505.9 L1003.8 502.4 L1005.5 488.8 L1007.2 473.5 L1008.9 466.7 L1010.6 453.1 L1012.3 470.1 L1014.0 465.0 L1015.7 459.9 L1017.4 448.0 L1019.1 454.8 L1020.8 470.1 L1022.5 459.9 L1024.2 478.6 L1025.9 476.9 L1027.6 465.0 L1029.3 454.8 L1031.0 441.2 L1032.7 431.0 L1034.4 414.0 L1036.1 400.4 L1037.8 391.9 L1039.5 397.0 L1041.2 408.8 L1042.3 418.1 L1043.5 425.0 L1044.6 430.8 L1045.8 432.0 L1047.0 429.7 L1048.1 418.1 L1049.3 411.1 L1050.4 418.1 L1051.6 429.7 L1052.7 432.0 L1053.9 429.7 L1055.1 418.1 L1056.7 410.0 L1058.1 405.3 L1059.0 413.4 L1060.4 427.4 L1061.3 438.9 L1062.7 434.3 L1064.3 443.6 L1065.5 433.2 L1067.4 429.7 L1069.0 432.0 L1070.6 422.7 L1072.5 419.2 L1074.3 418.1 L1075.9 415.8 L1077.6 416.9 L1078.9 408.8 L1079.9 401.9 L1081.3 412.3 L1082.9 406.5 L1084.5 399.5 L1085.9 392.6 L1087.5 389.1 L1089.1 391.4 L1090.5 384.5 L1092.2 379.8 L1093.8 371.7 L1095.2 364.8 L1096.1 350.9 L1097.5 364.8 L1099.1 370.6 L1100.7 374.0 L1102.1 381.0 L1103.7 388.0 L1104.9 397.2 L1106.1 406.5 L1107.2 411.1 L1108.4 406.5 L1110.0 401.9 L1111.9 398.4 L1113.7 394.9 L1115.3 397.2 L1117.0 391.4 L1118.8 394.9 L1120.7 385.6 L1122.3 390.3 L1123.9 376.4 L1125.3 368.2 L1126.9 365.9 L1128.5 372.9 L1130.4 378.7 L1132.3 375.2 L1133.9 382.2 L1135.5 391.4 L1137.4 385.6 L1139.2 391.4 L1140.8 392.6 L1142.5 399.5 L1143.2 414.6 L1144.3 407.7 L1146.2 410.0 L1147.8 414.6 L1148.9 420.4 L1150.6 422.7 L1152.2 418.1 L1153.6 406.5 L1155.0 399.5 L1156.6 397.2 L1157.8 389.1 L1159.4 384.5 L1161.0 379.8 L1162.4 386.8 L1163.3 392.6 L1164.5 394.9 L1165.2 381.0 L1166.3 374.0 L1167.5 369.4 L1168.9 368.2 L1170.3 363.6" fill="none" stroke="#2656f2" stroke-width="1.6" stroke-linejoin="round"/></g>
<line x1="1075" y1="340.2" x2="1204.5" y2="399.2" stroke="#ef4a4a" stroke-width="1"/>
<line x1="1080.5" y1="414.8" x2="1206.6" y2="463" stroke="#ef4a4a" stroke-width="1"/>
</svg>
<svg class="abs" style="left:74px;top:6px" width="15" height="15" viewBox="0 0 15 15"><circle cx="7.5" cy="7.5" r="7.2" fill="#e8453c"/><polygon points="4.2,3 4.8,4.6 6.5,4.6 5.1,5.6 5.6,7.2 4.2,6.2 2.8,7.2 3.3,5.6 1.9,4.6 3.6,4.6" fill="#ffd54a"/><circle cx="8" cy="3.2" r="0.7" fill="#ffd54a"/><circle cx="9.2" cy="5" r="0.7" fill="#ffd54a"/><circle cx="9.2" cy="7.2" r="0.7" fill="#ffd54a"/><circle cx="8" cy="8.8" r="0.7" fill="#ffd54a"/></svg>
<div class="leg" style="left:90.5px;top:6.3px;font-family:Liberation Sans,Arial,sans-serif;font-size:12.5px;line-height:16px;color:#131722">China Government Bonds 10 YR Yield · 1W · TVC</div>
<div class="circ" style="left:382px;top:6px;width:14px;height:14px;background:#eef0f4"></div>
<div class="abs" style="left:385px;top:12px;width:8px;height:2.5px;background:#6a6d78;border-radius:1px"></div>
<div class="leg" style="left:410.5px;top:7.5px;font-family:Liberation Sans,Arial,sans-serif;font-size:10px;line-height:14px;letter-spacing:-0.25px">1.612%</div>
<div class="leg" style="left:447.5px;top:7.5px;font-family:Liberation Sans,Arial,sans-serif;font-size:10px;line-height:14px;letter-spacing:-0.25px">+0.005</div>
<div class="leg" style="left:483.2px;top:7.5px;font-family:Liberation Sans,Arial,sans-serif;font-size:10px;line-height:14px;letter-spacing:-0.25px">(+0.31%)</div>
<div class="leg" style="left:74px;top:26px;font-family:Liberation Sans,Arial,sans-serif;font-size:10px;line-height:14px;">Vol</div>
<div class="circ" style="left:95.6px;top:26px;width:14px;height:14px;background:#fde2e5"></div>
<div class="abs" style="left:101.7px;top:29.2px;width:1.8px;height:5.3px;background:#e0323f;border-radius:0.5px"></div>
<div class="abs" style="left:101.7px;top:35.6px;width:1.8px;height:1.6px;background:#e0323f"></div>
<div class="abs" style="left:74.2px;top:44.4px;width:23px;height:17px;box-sizing:border-box;border:1px solid #e0e3eb;border-radius:3px;background:#fff"></div>
<svg class="abs" style="left:80px;top:49px" width="11" height="7" viewBox="0 0 11 7"><path d="M2 5.5 L5.5 2.5 L9 5.5" fill="none" stroke="#131722" stroke-width="1.3"/></svg>
<svg class="abs" style="left:74px;top:327px" width="15" height="15" viewBox="0 0 15 15"><circle cx="7.5" cy="7.5" r="7.3" fill="#1b2454"/><path d="M10.2 4.8 A3.4 3.4 0 1 0 10.2 10.2" fill="none" stroke="#ffffff" stroke-width="1.8"/></svg>
<div class="leg" style="left:92px;top:328.5px;font-family:Liberation Sans,Arial,sans-serif;font-size:10px;line-height:14px;">TNX · TVC</div>
<div class="leg" style="left:146.4px;top:328.5px;font-family:Liberation Sans,Arial,sans-serif;font-size:10px;line-height:14px;letter-spacing:0.18px;color:#4a78ee">4.686 +0.089 (+1.94%)</div>
<svg class="abs" style="left:74px;top:346px" width="15" height="15" viewBox="0 0 15 15"><defs><clipPath id="fc"><circle cx="7.5" cy="7.5" r="7.3"/></clipPath></defs><g clip-path="url(#fc)"><rect x="0" y="0" width="15" height="5" fill="#222"/><rect x="0" y="5" width="15" height="5" fill="#dd2d2d"/><rect x="0" y="10" width="15" height="5" fill="#ffcc00"/></g></svg>
<div class="leg" style="left:92px;top:348.2px;font-family:Liberation Sans,Arial,sans-serif;font-size:10px;line-height:14px;letter-spacing:-0.3px">DE10Y · TVC</div>
<div class="leg" style="left:157px;top:348.2px;font-family:Liberation Sans,Arial,sans-serif;font-size:10px;line-height:14px;color:#f5a03c">2.469% +0.035 (+1.44%)</div>
<div class="abs" style="left:74px;top:365px;width:23px;height:17px;box-sizing:border-box;border:1px solid #e0e3eb;border-radius:3px;background:rgba(255,255,255,0.6)"></div>
<svg class="abs" style="left:80px;top:370px" width="11" height="7" viewBox="0 0 11 7"><path d="M1.5 5.5 L5.5 1.8 L9.5 5.5" fill="none" stroke="#131722" stroke-width="1.4"/></svg>
<div class="abs" style="left:1226px;top:4px;width:51px;height:20px;box-sizing:border-box;border:1px solid #eceef2;border-radius:4px"></div>
<div class="abs" style="left:1228.30px;top:7.90px;font-family:'Liberation Sans',Arial,sans-serif;font-size:10px;line-height:14px;height:14px;letter-spacing:0px;color:#50535e;white-space:nowrap;"><span style="display:inline-block;transform:scaleX(0.74);transform-origin:0 50%;letter-spacing:0">%</span></div>
<div class="abs" style="left:1230.50px;top:71.10px;font-family:'Liberation Sans',Arial,sans-serif;font-size:12.5px;line-height:14px;height:14px;letter-spacing:0.45px;color:#131722;white-space:nowrap;">4.000<span style="display:inline-block;transform:scaleX(0.74);transform-origin:0 50%;letter-spacing:0">%</span></div>
<div class="abs" style="left:1230.50px;top:104.10px;font-family:'Liberation Sans',Arial,sans-serif;font-size:12.5px;line-height:14px;height:14px;letter-spacing:0.45px;color:#131722;white-space:nowrap;">3.500<span style="display:inline-block;transform:scaleX(0.74);transform-origin:0 50%;letter-spacing:0">%</span></div>
<div class="abs" style="left:1230.50px;top:142.19px;font-family:'Liberation Sans',Arial,sans-serif;font-size:12.5px;line-height:14px;height:14px;letter-spacing:0.45px;color:#131722;white-space:nowrap;">3.000<span style="display:inline-block;transform:scaleX(0.74);transform-origin:0 50%;letter-spacing:0">%</span></div>
<div class="abs" style="left:1230.50px;top:177.55px;font-family:'Liberation Sans',Arial,sans-serif;font-size:12.5px;line-height:14px;height:14px;letter-spacing:0.45px;color:#131722;white-space:nowrap;">2.600<span style="display:inline-block;transform:scaleX(0.74);transform-origin:0 50%;letter-spacing:0">%</span></div>
<div class="abs" style="left:1230.50px;top:218.83px;font-family:'Liberation Sans',Arial,sans-serif;font-size:12.5px;line-height:14px;height:14px;letter-spacing:0.45px;color:#131722;white-space:nowrap;">2.200<span style="display:inline-block;transform:scaleX(0.74);transform-origin:0 50%;letter-spacing:0">%</span></div>
<div class="abs" style="left:1230.50px;top:255.05px;font-family:'Liberation Sans',Arial,sans-serif;font-size:12.5px;line-height:14px;height:14px;letter-spacing:0.45px;color:#131722;white-space:nowrap;">1.900<span style="display:inline-block;transform:scaleX(0.74);transform-origin:0 50%;letter-spacing:0">%</span></div>
<div class="abs" style="left:1222px;top:287px;width:54px;height:33px;background:#000"></div>
<div class="abs" style="left:1230.60px;top:289.90px;font-family:'Liberation Sans',Arial,sans-serif;font-size:13px;line-height:14px;height:14px;letter-spacing:0.1px;color:#fff;white-space:nowrap;font-weight:bold;">1.612<span style="display:inline-block;transform:scaleX(0.78);transform-origin:0 50%;letter-spacing:0">%</span></div>
<div class="abs" style="left:1230.80px;top:305.20px;font-family:'Liberation Sans',Arial,sans-serif;font-size:12.5px;line-height:14px;height:14px;letter-spacing:0.05px;color:#d6d6d6;white-space:nowrap;">2d 19h</div>
<div class="abs" style="left:1230.50px;top:340.10px;font-family:'Liberation Sans',Arial,sans-serif;font-size:12.5px;line-height:14px;height:14px;letter-spacing:0.45px;color:#131722;white-space:nowrap;">5.000</div>
<div class="abs" style="left:1223.5px;top:322px;width:54px;height:27.2px;background:#fff"></div>
<div class="abs" style="left:1225.6px;top:324.5px;width:51px;height:21px;box-sizing:border-box;border:1px solid #eceef2;border-radius:4px;background:#fff"></div>
<div class="abs" style="left:1228.40px;top:328.30px;font-family:'Liberation Sans',Arial,sans-serif;font-size:9.6px;line-height:14px;height:14px;letter-spacing:-0.6px;color:#3a3d48;white-space:nowrap;">USD</div>
<svg class="abs" style="left:1267px;top:333px" width="7" height="5" viewBox="0 0 7 5"><path d="M1 1 L3.5 3.5 L6 1" fill="none" stroke="#131722" stroke-width="1.2"/></svg>
<div class="abs" style="left:1222px;top:356px;width:46px;height:18px;background:#2962ff"></div>
<div class="abs" style="left:1230.50px;top:358.80px;font-family:'Liberation Sans',Arial,sans-serif;font-size:12.5px;line-height:14px;height:14px;letter-spacing:0.25px;color:#fff;white-space:nowrap;">4.686</div>
<div class="abs" style="left:1230.50px;top:397.20px;font-family:'Liberation Sans',Arial,sans-serif;font-size:12.5px;line-height:14px;height:14px;letter-spacing:0.45px;color:#131722;white-space:nowrap;">4.000</div>
<div class="abs" style="left:1230.50px;top:454.30px;font-family:'Liberation Sans',Arial,sans-serif;font-size:12.5px;line-height:14px;height:14px;letter-spacing:0.45px;color:#131722;white-space:nowrap;">3.000</div>
<div class="abs" style="left:1230.50px;top:511.40px;font-family:'Liberation Sans',Arial,sans-serif;font-size:12.5px;line-height:14px;height:14px;letter-spacing:0.45px;color:#131722;white-space:nowrap;">2.000</div>
<div class="abs" style="left:1230.50px;top:568.50px;font-family:'Liberation Sans',Arial,sans-serif;font-size:12.5px;line-height:14px;height:14px;letter-spacing:0.45px;color:#131722;white-space:nowrap;">1.000</div>
<div class="abs" style="left:4.7px;top:324.6px;width:58px;height:20.7px;box-sizing:border-box;border:1px solid #eceef2;border-radius:4px"></div>
<div class="abs" style="left:7.20px;top:328.30px;font-family:'Liberation Sans',Arial,sans-serif;font-size:10px;line-height:14px;height:14px;letter-spacing:0px;color:#50535e;white-space:nowrap;"><span style="display:inline-block;transform:scaleX(0.74);transform-origin:0 50%;letter-spacing:0">%</span></div>
<div class="abs" style="left:16.60px;top:362.10px;font-family:'Liberation Sans',Arial,sans-serif;font-size:12.5px;line-height:14px;height:14px;letter-spacing:0.45px;color:#131722;white-space:nowrap;">4.000<span style="display:inline-block;transform:scaleX(0.74);transform-origin:0 50%;letter-spacing:0">%</span></div>
<div class="abs" style="left:16.60px;top:411.50px;font-family:'Liberation Sans',Arial,sans-serif;font-size:12.5px;line-height:14px;height:14px;letter-spacing:0.45px;color:#131722;white-space:nowrap;">3.000<span style="display:inline-block;transform:scaleX(0.74);transform-origin:0 50%;letter-spacing:0">%</span></div>
<div class="abs" style="left:16.60px;top:460.90px;font-family:'Liberation Sans',Arial,sans-serif;font-size:12.5px;line-height:14px;height:14px;letter-spacing:0.45px;color:#131722;white-space:nowrap;">2.000<span style="display:inline-block;transform:scaleX(0.74);transform-origin:0 50%;letter-spacing:0">%</span></div>
<div class="abs" style="left:16.60px;top:510.30px;font-family:'Liberation Sans',Arial,sans-serif;font-size:12.5px;line-height:14px;height:14px;letter-spacing:0.45px;color:#131722;white-space:nowrap;">1.000<span style="display:inline-block;transform:scaleX(0.74);transform-origin:0 50%;letter-spacing:0">%</span></div>
<div class="abs" style="left:16.60px;top:559.70px;font-family:'Liberation Sans',Arial,sans-serif;font-size:12.5px;line-height:14px;height:14px;letter-spacing:0.45px;color:#131722;white-space:nowrap;">0.000<span style="display:inline-block;transform:scaleX(0.74);transform-origin:0 50%;letter-spacing:0">%</span></div>
<div class="abs" style="left:2px;top:609px;width:62px;height:7px;overflow:hidden">
<div class="abs" style="left:8.5px;top:-1.3px;font-family:'Liberation Sans',Arial,sans-serif;font-size:12.5px;line-height:14px;letter-spacing:0.3px;color:#131722;white-space:nowrap">−1.000<span style="display:inline-block;transform:scaleX(0.66);transform-origin:0 50%;letter-spacing:0">%</span></div></div>
<div class="abs" style="left:11.8px;top:435.8px;width:53.2px;height:18px;background:#f7931e"></div>
<div class="abs" style="left:16.60px;top:438.50px;font-family:'Liberation Sans',Arial,sans-serif;font-size:12.5px;line-height:14px;height:14px;letter-spacing:0.45px;color:#131722;white-space:nowrap;">2.469<span style="display:inline-block;transform:scaleX(0.74);transform-origin:0 50%;letter-spacing:0">%</span></div>
<div class="abs" style="left:124.5px;width:50px;text-align:center;top:624.0px;font-family:'Liberation Sans',Arial,sans-serif;font-size:12px;line-height:14px;letter-spacing:1.1px;text-indent:1.1px;font-weight:bold;color:#131722">2008</div>
<div class="abs" style="left:244.10000000000002px;width:50px;text-align:center;top:624.0px;font-family:'Liberation Sans',Arial,sans-serif;font-size:12px;line-height:14px;letter-spacing:1.1px;text-indent:1.1px;font-weight:bold;color:#131722">2010</div>
<div class="abs" style="left:363.8px;width:50px;text-align:center;top:624.0px;font-family:'Liberation Sans',Arial,sans-serif;font-size:12px;line-height:14px;letter-spacing:1.1px;text-indent:1.1px;font-weight:bold;color:#131722">2012</div>
<div class="abs" style="left:484px;width:50px;text-align:center;top:624.0px;font-family:'Liberation Sans',Arial,sans-serif;font-size:12px;line-height:14px;letter-spacing:1.1px;text-indent:1.1px;font-weight:bold;color:#131722">2014</div>
<div class="abs" style="left:606px;width:50px;text-align:center;top:624.0px;font-family:'Liberation Sans',Arial,sans-serif;font-size:12px;line-height:14px;letter-spacing:1.1px;text-indent:1.1px;font-weight:bold;color:#131722">2016</div>
<div class="abs" style="left:724.6px;width:50px;text-align:center;top:624.0px;font-family:'Liberation Sans',Arial,sans-serif;font-size:12px;line-height:14px;letter-spacing:1.1px;text-indent:1.1px;font-weight:bold;color:#131722">2018</div>
<div class="abs" style="left:845px;width:50px;text-align:center;top:624.0px;font-family:'Liberation Sans',Arial,sans-serif;font-size:12px;line-height:14px;letter-spacing:1.1px;text-indent:1.1px;font-weight:bold;color:#131722">2020</div>
<div class="abs" style="left:967px;width:50px;text-align:center;top:624.0px;font-family:'Liberation Sans',Arial,sans-serif;font-size:12px;line-height:14px;letter-spacing:1.1px;text-indent:1.1px;font-weight:bold;color:#131722">2022</div>
<div class="abs" style="left:1084px;width:50px;text-align:center;top:624.0px;font-family:'Liberation Sans',Arial,sans-serif;font-size:12px;line-height:14px;letter-spacing:1.1px;text-indent:1.1px;font-weight:bold;color:#131722">2024</div>
<div class="circ" style="left:26px;top:624px;width:16px;height:16px;background:#f0f1f4"></div>
<div class="abs" style="left:26px;width:16px;text-align:center;top:625px;font-family:'Liberation Sans',Arial,sans-serif;font-size:9.5px;line-height:14px;color:#555">Z</div>
<div class="circ" style="left:1244px;top:624px;width:16px;height:16px;background:#f0f1f4"></div>
<div class="abs" style="left:1244px;width:16px;text-align:center;top:625px;font-family:'Liberation Sans',Arial,sans-serif;font-size:9.5px;line-height:14px;color:#555">A</div>
<svg class="abs" style="left:0;top:0" width="1280" height="647" viewBox="0 0 1280 647"><path d="M76.5 592.9 H85.8 V604.6 H81.3 V597.1 H76.5 Z" fill="#131722"/><circle cx="90.2" cy="595" r="2.1" fill="#131722"/><path d="M95.3 592.9 H100.7 L95.9 604.6 H90.6 Z" fill="#131722"/></svg>
<div class="abs" style="left:178px;top:562px;width:213px;height:41px;box-sizing:border-box;border:1px solid #b8dcf0;background:#fff"></div>
<svg class="abs" style="left:178px;top:562px" width="30" height="30" viewBox="0 0 30 30"><polygon points="3,14.6 23.4,3.8 15.4,14.2" fill="#7dc3e8"/><polygon points="3,15.8 23.4,27 15.4,16" fill="#86cf8e"/></svg>
<div class="abs" style="left:204px;top:569.7px;font-family:'Liberation Sans',Arial,sans-serif;font-size:15.3px;line-height:16px;letter-spacing:3.0px;font-weight:bold;color:#8ccbec;white-space:nowrap">KIMBLE CHARTING</div>
<div class="abs" style="left:214px;top:584.8px;font-family:'Liberation Sans',Arial,sans-serif;font-size:15.3px;line-height:16px;letter-spacing:3.3px;font-weight:bold;color:#8fd29a;white-space:nowrap">SOLUTIONS</div>
<svg class="abs" style="left:0;top:0" width="1280" height="647" viewBox="0 0 1280 647"><defs><filter id="ds" x="-30%" y="-30%" width="160%" height="160%"><feGaussianBlur in="SourceAlpha" stdDeviation="1.5"/><feOffset dx="1.5" dy="2.5"/><feComponentTransfer><feFuncA type="linear" slope="0.35"/></feComponentTransfer><feMerge><feMergeNode/><feMergeNode in="SourceGraphic"/></feMerge></filter></defs>
<g filter="url(#ds)"><line x1="275.2" y1="173.6" x2="293.4" y2="144.6" stroke="#111" stroke-width="3.1" stroke-linecap="round"/><polygon points="297.8,137.7 296.0,151.0 292.1,146.8 286.6,145.0" fill="#111"/></g>
<g filter="url(#ds)"><line x1="968" y1="392" x2="1023.2" y2="412.6" stroke="#2f55e4" stroke-width="3.2" stroke-linecap="round"/><polygon points="1030.8,415.4 1017.5,416.5 1020.9,411.7 1021.5,405.8" fill="#2f55e4"/></g>
<g filter="url(#ds)"><line x1="1072.6" y1="554.6" x2="1034.3" y2="533.3" stroke="#f5961f" stroke-width="3.2" stroke-linecap="round"/><polygon points="1027.1,529.3 1040.4,530.4 1036.5,534.5 1035.1,540.0" fill="#f5961f"/></g>
<g filter="url(#ds)"><line x1="1208.1" y1="349.7" x2="1188.8" y2="362.9" stroke="#ec343c" stroke-width="3.3" stroke-linecap="round"/><polygon points="1181.9,367.6 1189.0,356.1 1191.2,361.2 1195.2,365.2" fill="#ec343c"/></g>
<g filter="url(#ds)"><line x1="1213.8" y1="432.6" x2="1187.3" y2="441.7" stroke="#ec343c" stroke-width="3.3" stroke-linecap="round"/><polygon points="1179.5,444.4 1189.3,435.2 1190.2,440.7 1192.9,445.6" fill="#ec343c"/></g>
</svg>
<svg class="abs" style="left:0;top:0" width="1280" height="647" viewBox="0 0 1280 647"><defs><filter id="bs" x="-10%" y="-10%" width="125%" height="130%"><feGaussianBlur in="SourceAlpha" stdDeviation="1.8"/><feOffset dx="1.5" dy="3"/><feComponentTransfer><feFuncA type="linear" slope="0.42"/></feComponentTransfer><feMerge><feMergeNode/><feMergeNode in="SourceGraphic"/></feMerge></filter></defs>
<rect x="133.90" y="183.40" width="190.80" height="75.00" fill="#fff" stroke="#0a0a0a" stroke-width="2.8" filter="url(#bs)"/>
<rect x="438.65" y="234.35" width="298.30" height="143.20" fill="#fff" stroke="#a2a2a2" stroke-width="3.3" filter="url(#bs)"/>
<rect x="835.30" y="345.90" width="131.20" height="56.90" fill="#fff" stroke="#3153ea" stroke-width="2.6" filter="url(#bs)"/>
<rect x="1075.10" y="532.70" width="125.80" height="63.00" fill="#fff" stroke="#f5921f" stroke-width="2.8" filter="url(#bs)"/>
</svg>
<div class="abs" style="left:131.2px;width:193.60px;top:203.4px;text-align:center;font-family:'Liberation Sans',Arial,sans-serif;font-size:15.2px;line-height:17.8px;letter-spacing:0.32px;word-spacing:0.6px;padding-left:0.32px;box-sizing:border-box;color:#0d0d0d;font-weight:bold;white-space:nowrap">China 10-year<br>Weekly</div>
<div class="abs" style="left:436px;width:301.60px;top:245.7px;text-align:center;font-family:'Liberation Sans',Arial,sans-serif;font-size:18.5px;line-height:23.8px;letter-spacing:0.4px;word-spacing:1.5px;padding-left:0.4px;box-sizing:border-box;color:#151515;font-weight:bold;white-space:nowrap">Rates are collapsing in China<br>&amp;<br>Breaking above 1-year<br>falling resistance<br>in U.S. &amp; Germany!</div>
<div class="abs" style="left:834px;width:133.80px;top:356.0px;text-align:center;font-family:'Liberation Sans',Arial,sans-serif;font-size:15.2px;line-height:17.7px;letter-spacing:0.1px;word-spacing:0px;padding-left:0.1px;box-sizing:border-box;color:#1e1e1e;white-space:nowrap">U.S 10-year<br>Yield Weekly</div>
<div class="abs" style="left:1073.2px;width:128.60px;top:546.0px;text-align:center;font-family:'Liberation Sans',Arial,sans-serif;font-size:15.2px;line-height:17.3px;letter-spacing:0.1px;word-spacing:0px;padding-left:0.1px;box-sizing:border-box;color:#1e1e1e;white-space:nowrap">German<br>10-year yield</div>
<div class="abs" style="left:755.8px;top:153px;font-family:'Liberation Sans',Arial,sans-serif;font-size:12.8px;line-height:14px;color:#676774;white-space:nowrap;text-align:center;transform-origin:0 0;transform:rotate(-7.6deg)">Kimblechartingsolutions.com<br><span style="margin-left:0">1/7/25</span></div>
<div class="bline" style="left:0;top:0;width:1280px;height:2px"></div>
<div class="bline" style="left:0;top:645px;width:1280px;height:2px"></div>
<div class="bline" style="left:0;top:0;width:2px;height:647px"></div>
<div class="bline" style="left:1278px;top:0;width:2px;height:647px"></div>
</body></html>
